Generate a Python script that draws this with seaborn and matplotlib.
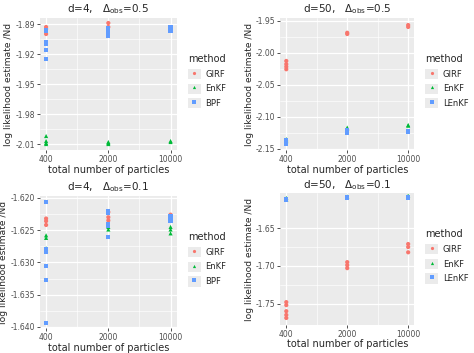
import pandas as pd
import matplotlib
matplotlib.use('Agg')
import matplotlib.pyplot as plt
import matplotlib.ticker as mticker
from matplotlib.lines import Line2D
from matplotlib.patches import Rectangle
import seaborn as sns

particles = [400, 2000, 10000]
colors = ['#F8766D', '#00BA38', '#619CFF']
markers = ['o', '^', 's']

# d=4, dobs=0.5
p1_girf = {400: [-1.893, -1.895, -1.900], 2000: [-1.889, -1.893], 10000: [-1.894]}
p1_enkf = {400: [-2.002, -2.007, -2.009, -2.010], 2000: [-2.008, -2.009, -2.010], 10000: [-2.007, -2.008]}
p1_bpf = {400: [-1.896, -1.897, -1.908, -1.910, -1.916, -1.925],
          2000: [-1.894, -1.896, -1.898, -1.900, -1.902], 10000: [-1.893, -1.895, -1.897]}
# d=50, dobs=0.5
p2_girf = {400: [-2.013, -2.018, -2.022, -2.026], 2000: [-1.969, -1.971], 10000: [-1.957, -1.960]}
p2_enkf = {400: [-2.135, -2.138], 2000: [-2.117, -2.119], 10000: [-2.113, -2.114]}
p2_lenkf = {400: [-2.136, -2.138, -2.140, -2.142], 2000: [-2.121, -2.124, -2.126], 10000: [-2.122, -2.124]}
# d=4, dobs=0.1
p3_girf = {400: [-1.6232, -1.6236, -1.6242], 2000: [-1.6222, -1.6230, -1.6235], 10000: [-1.6226, -1.6232]}
p3_enkf = {400: [-1.6258, -1.6262, -1.6278, -1.6281], 2000: [-1.6245, -1.6249],
           10000: [-1.6245, -1.6249, -1.6255]}
p3_bpf = {400: [-1.6206, -1.6280, -1.6283, -1.6305, -1.6327, -1.6394],
          2000: [-1.6220, -1.6223, -1.6241, -1.6244, -1.6261], 10000: [-1.6229, -1.6232, -1.6235]}
# d=50, dobs=0.1
p4_girf = {400: [-1.748, -1.752, -1.760, -1.765, -1.769], 2000: [-1.695, -1.699, -1.703],
           10000: [-1.671, -1.675, -1.682]}
p4_enkf = {400: [-1.610, -1.612], 2000: [-1.608], 10000: [-1.607]}
p4_lenkf = {400: [-1.611, -1.613], 2000: [-1.609, -1.610], 10000: [-1.609, -1.610]}

panels = [
    ('d=4,   $\\Delta_{\\rm obs}$=0.5', [('GIRF', p1_girf), ('EnKF', p1_enkf), ('BPF', p1_bpf)],
     [-1.89, -1.92, -1.95, -1.98, -2.01], '%.2f', (-2.016, -1.884)),
    ('d=50,   $\\Delta_{\\rm obs}$=0.5', [('GIRF', p2_girf), ('EnKF', p2_enkf), ('LEnKF', p2_lenkf)],
     [-1.95, -2.00, -2.05, -2.10, -2.15], '%.2f', (-2.152, -1.946)),
    ('d=4,   $\\Delta_{\\rm obs}$=0.1', [('GIRF', p3_girf), ('EnKF', p3_enkf), ('BPF', p3_bpf)],
     [-1.620, -1.625, -1.630, -1.635, -1.640], '%.3f', (-1.6402, -1.6197)),
    ('d=50,   $\\Delta_{\\rm obs}$=0.1', [('GIRF', p4_girf), ('EnKF', p4_enkf), ('LEnKF', p4_lenkf)],
     [-1.65, -1.70, -1.75], '%.2f', (-1.778, -1.604)),
]

positions = [[0.084, 0.575, 0.289, 0.374], [0.591, 0.575, 0.283, 0.374],
             [0.084, 0.070, 0.289, 0.375], [0.591, 0.080, 0.283, 0.372]]

sns.set_theme(style='darkgrid', rc={'axes.facecolor': '#EBEBEB', 'grid.color': 'white'})
plt.rcParams['font.family'] = ['DejaVu Sans']

fig = plt.figure(figsize=(4.74, 3.53), dpi=100)
for (title, series, yticks, fmt, ylim), pos in zip(panels, positions):
    ax = fig.add_axes(pos)
    rows = []
    for name, vals in series:
        for n in particles:
            for v in vals[n]:
                rows.append({'n': n, 'y': v, 'method': name})
    df = pd.DataFrame(rows)
    order = [s[0] for s in series]
    sns.scatterplot(data=df, x='n', y='y', hue='method', style='method', hue_order=order,
                    style_order=order, palette=colors, markers=markers, s=9, linewidth=0,
                    ax=ax, zorder=3, legend=False)
    ax.set_xscale('log')
    ax.set_xlim(340, 11750)
    ax.set_xticks(particles)
    ax.set_xticks([894, 4472], minor=True)
    ax.xaxis.set_major_formatter(mticker.FixedFormatter(['400', '2000', '10000']))
    ax.xaxis.set_minor_formatter(mticker.NullFormatter())
    ax.set_ylim(*ylim)
    ax.set_yticks(yticks)
    ax.yaxis.set_major_formatter(mticker.FormatStrFormatter(fmt))
    ymin = [(yticks[i] + yticks[i + 1]) / 2 for i in range(len(yticks) - 1)]
    ax.set_yticks(ymin, minor=True)
    ax.grid(which='major', color='white', linewidth=0.9)
    ax.grid(which='minor', color='white', linewidth=0.45)
    ax.tick_params(which='major', length=2, width=0.6, color='#333333', labelsize=5.5,
                   labelcolor='#4D4D4D', pad=1.5, bottom=True, left=True)
    ax.tick_params(which='minor', length=0)
    for sp in ax.spines.values():
        sp.set_visible(False)
    ax.set_xlabel('total number of particles', fontsize=7, labelpad=0.5)
    ax.set_ylabel('log likelihood estimate /Nd', fontsize=6.6, labelpad=1.5)
    ax.set_title(title, fontsize=7.5, pad=4)
    handles = [(Rectangle((0, 0), 1, 1, fc='#EBEBEB', ec='none'),
                Line2D([], [], marker=m, color=c, linestyle='', markersize=2.3, markeredgewidth=0))
               for m, c in zip(markers, colors)]
    ax.legend(handles, order, title='method', loc='center left', bbox_to_anchor=(1.04, 0.52),
              frameon=False, fontsize=6, title_fontsize=7, handlelength=1.5, handleheight=1.5,
              handletextpad=0.6, labelspacing=0.55, alignment='left', borderpad=0.2)

fig.savefig('out.png', dpi=100)
